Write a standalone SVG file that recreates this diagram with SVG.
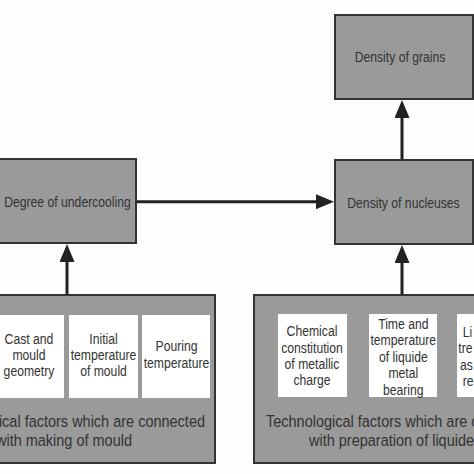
<svg xmlns="http://www.w3.org/2000/svg" width="474" height="474" viewBox="0 0 474 474">
<style>
.box{fill:#9a9a9a;stroke:#333;stroke-width:2}
.inner{fill:#ffffff}
.t{font-family:"Liberation Sans",Arial,sans-serif;font-size:15px;fill:#333;text-anchor:middle}
.cap{font-family:"Liberation Sans",Arial,sans-serif;font-size:17px;fill:#333}
.conn{stroke:#222;stroke-width:3;fill:none}
</style>
<defs>
<marker id="ah" viewBox="0 0 18 15" refX="10" refY="7.5" markerWidth="18" markerHeight="15" markerUnits="userSpaceOnUse" orient="auto">
<path d="M0,0 L18,7.5 L0,15 Z" fill="#222"/>
</marker>
</defs>
<rect width="474" height="474" fill="#fdfdfd"/>

<g id="connectors">
<line class="conn" x1="136" y1="201.7" x2="326" y2="201.7" marker-end="url(#ah)"/>
<line class="conn" x1="402" y1="160" x2="402" y2="108" marker-end="url(#ah)"/>
<line class="conn" x1="67" y1="295" x2="67" y2="252" marker-end="url(#ah)"/>
<line class="conn" x1="402" y1="295" x2="402" y2="253" marker-end="url(#ah)"/>
</g>

<g id="grains">
<rect class="box" x="335" y="15" width="138" height="84"/>
<text class="t" transform="translate(400,62) scale(0.813,1)">Density of grains</text>
</g>

<g id="nucleuses">
<rect class="box" x="335" y="160" width="138" height="84"/>
<text class="t" transform="translate(403.5,207.5) scale(0.813,1)">Density of nucleuses</text>
</g>

<g id="undercooling">
<rect class="box" x="-3" y="159" width="139" height="84"/>
<text class="t" transform="translate(67.5,207) scale(0.813,1)">Degree of undercooling</text>
</g>

<g id="mould-factors">
<rect class="box" x="-81" y="295" width="296" height="168"/>
<rect class="inner" x="-5" y="315" width="69" height="83"/>
<rect class="inner" x="69" y="315" width="69" height="83"/>
<rect class="inner" x="142" y="315" width="68" height="83"/>
<text class="t" transform="translate(29,343.5) scale(0.813,1)">Cast and</text>
<text class="t" transform="translate(29,359.8) scale(0.813,1)">mould</text>
<text class="t" transform="translate(29,376) scale(0.813,1)">geometry</text>
<text class="t" transform="translate(103.5,343.5) scale(0.813,1)">Initial</text>
<text class="t" transform="translate(103.5,359.8) scale(0.813,1)">temperature</text>
<text class="t" transform="translate(103.5,376) scale(0.813,1)">of mould</text>
<text class="t" transform="translate(176.5,351.3) scale(0.813,1)">Pouring</text>
<text class="t" transform="translate(176.5,367.5) scale(0.813,1)">temperature</text>
<text class="cap" text-anchor="end" transform="translate(205,426.5) scale(0.853,1)">Technological factors which are connected</text>
<text class="cap" text-anchor="end" transform="translate(132,445.5) scale(0.853,1)">with making of mould</text>
</g>

<g id="metal-factors">
<rect class="box" x="254" y="295" width="296" height="168"/>
<rect class="inner" x="278" y="314" width="69" height="83"/>
<rect class="inner" x="369" y="314" width="68" height="83"/>
<rect class="inner" x="457" y="314" width="68" height="83"/>
<text class="t" transform="translate(312,336.2) scale(0.813,1)">Chemical</text>
<text class="t" transform="translate(312,352.5) scale(0.813,1)">constitution</text>
<text class="t" transform="translate(312,368.8) scale(0.813,1)">of metallic</text>
<text class="t" transform="translate(312,385.2) scale(0.813,1)">charge</text>
<text class="t" transform="translate(403.3,328.8) scale(0.813,1)">Time and</text>
<text class="t" transform="translate(403.3,345.3) scale(0.813,1)">temperature</text>
<text class="t" transform="translate(403.3,361.8) scale(0.813,1)">of liquide</text>
<text class="t" transform="translate(403.3,378.3) scale(0.813,1)">metal</text>
<text class="t" transform="translate(403.3,394.8) scale(0.813,1)">bearing</text>
<text class="t" style="text-anchor:start" transform="translate(462.7,337) scale(0.813,1)">Li</text>
<text class="t" style="text-anchor:start" transform="translate(458.3,353.3) scale(0.813,1)">tre</text>
<text class="t" style="text-anchor:start" transform="translate(460,369.5) scale(0.813,1)">as</text>
<text class="t" style="text-anchor:start" transform="translate(462.7,385.5) scale(0.813,1)">re</text>
<text class="cap" text-anchor="start" transform="translate(266,426.5) scale(0.853,1)">Technological factors which are connected</text>
<text class="cap" text-anchor="start" transform="translate(309,445.5) scale(0.853,1)">with preparation of liquide</text>
</g>
</svg>
